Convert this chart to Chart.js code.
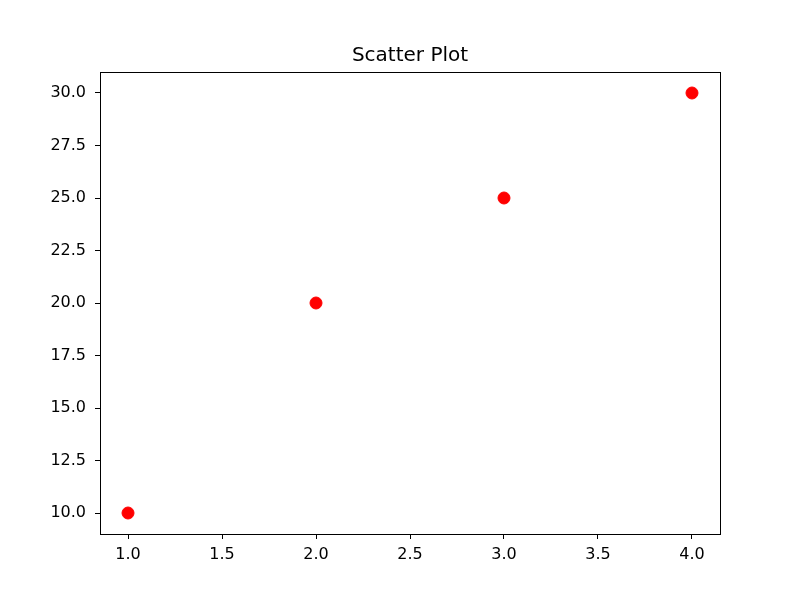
<!DOCTYPE html>
<html lang="en">
<head>
  <meta charset="UTF-8" />
  <title>Scatter Plot</title>
  <script src="https://cdn.jsdelivr.net/npm/chart.js"></script>
  <style>
    body {
      margin: 0;
      background: white;
    }
    canvas {
      display: block;
    }
  </style>
</head>
<body>
  <canvas id="chart" width="800" height="600"></canvas>

  <script>
    const xValues = [1, 2, 3, 4];
    const yValues = [10, 20, 25, 30];
    const xTicks = [1.0, 1.5, 2.0, 2.5, 3.0, 3.5, 4.0];
    const yTicks = [10.0, 12.5, 15.0, 17.5, 20.0, 22.5, 25.0, 27.5, 30.0];

    const points = xValues.map((x, i) => ({ x: x, y: yValues[i] }));

    // matplotlib-like closed frame, title centred over the plot area
    const framePlugin = {
      id: "frame",
      afterLayout(chart) {
        const t = chart.titleBlock;
        if (t) {
          t.left = chart.chartArea.left;
          t.right = chart.chartArea.right;
          t.width = t.right - t.left;
        }
      },
      afterDraw(chart) {
        const a = chart.chartArea;
        const ctx = chart.ctx;
        ctx.save();
        ctx.strokeStyle = "#000";
        ctx.lineWidth = 1;
        ctx.strokeRect(a.left + 0.5, a.top + 0.5, a.right - a.left, a.bottom - a.top);
        ctx.restore();
      }
    };

    const tickFont = { family: "'DejaVu Sans', sans-serif", size: 16 };

    new Chart(document.getElementById("chart").getContext("2d"), {
      type: "scatter",
      data: {
        datasets: [{
          data: points,
          backgroundColor: "#ff0000",
          borderColor: "#ff0000",
          pointRadius: 6,
          pointHoverRadius: 6
        }]
      },
      options: {
        responsive: false,
        animation: false,
        layout: { padding: { left: 0, right: 80, top: 0, bottom: 0 } },
        plugins: {
          legend: { display: false },
          tooltip: { enabled: false },
          title: {
            display: true,
            text: "Scatter Plot",
            color: "#000",
            font: { family: "'DejaVu Sans', sans-serif", size: 20, weight: "normal", lineHeight: 1.2 },
            padding: { top: 44, bottom: 4 }
          }
        },
        scales: {
          x: {
            type: "linear",
            min: 0.851,
            max: 4.149,
            afterBuildTicks: (scale) => { scale.ticks = xTicks.map(v => ({ value: v })); },
            afterFit: (scale) => { scale.height = 66; },
            grid: { drawOnChartArea: false, color: "#000", tickLength: 5 },
            border: { color: "#000" },
            ticks: {
              color: "#000",
              font: tickFont,
              padding: 6,
              maxRotation: 0,
              callback: (v) => Number(v).toFixed(1)
            }
          },
          y: {
            type: "linear",
            min: 9,
            max: 31,
            afterBuildTicks: (scale) => { scale.ticks = yTicks.map(v => ({ value: v })); },
            afterFit: (scale) => { scale.width = 100; },
            grid: { drawOnChartArea: false, color: "#000", tickLength: 5 },
            border: { color: "#000" },
            ticks: {
              color: "#000",
              font: tickFont,
              padding: 9,
              callback: (v) => Number(v).toFixed(1)
            }
          }
        }
      },
      plugins: [framePlugin]
    });
  </script>
</body>
</html>
